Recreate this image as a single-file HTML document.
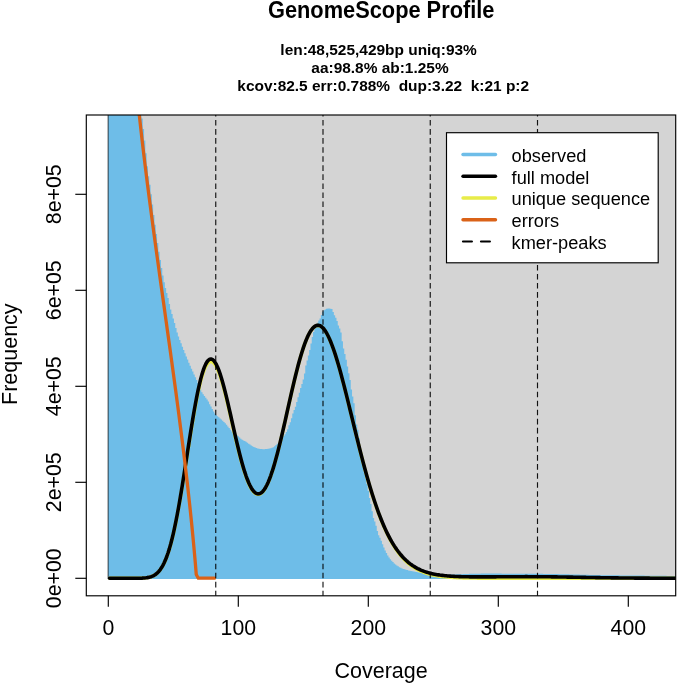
<!DOCTYPE html>
<html><head><meta charset="utf-8"><title>GenomeScope Profile</title>
<style>html,body{margin:0;padding:0;background:#fff;width:678px;height:685px;overflow:hidden}
svg{display:block;font-family:"Liberation Sans",Arial,Helvetica,sans-serif}
svg text{fill:#000}</style></head><body>
<svg width="678" height="685" viewBox="0 0 678 685">
<defs><clipPath id="pc"><rect x="86.3" y="115.0" width="589.4" height="480.8"/></clipPath></defs>
<rect width="678" height="685" fill="#fff"/>
<g clip-path="url(#pc)">
<rect x="108.3" y="110.0" width="572.4" height="468.3" fill="#D4D4D4" stroke="#000" stroke-width="1.15"/>
<path d="M108.5,578.9 L108.5,105 L108.95,105 L110.25,105 L110.25,105 L111.55,105 L111.55,105 L112.85,105 L112.85,105 L114.15,105 L114.15,105 L115.45,105 L115.45,105 L116.75,105 L116.75,105 L118.05,105 L118.05,105 L119.35,105 L119.35,105 L120.65,105 L120.65,105 L121.95,105 L121.95,105 L123.25,105 L123.25,105 L124.55,105 L124.55,105 L125.85,105 L125.85,105 L127.15,105 L127.15,105 L128.45,105 L128.45,105 L129.75,105 L129.75,105 L131.05,105 L131.05,105 L132.35,105 L132.35,105 L133.65,105 L133.65,105 L134.95,105 L134.95,105 L136.25,105 L136.25,105 L137.55,105 L137.55,105 L138.85,105 L138.85,105 L140.15,105 L140.15,105 L141.45,105 L141.45,118.5 L142.75,118.5 L142.75,129.12 L144.05,129.12 L144.05,140.45 L145.35,140.45 L145.35,153.3 L146.65,153.3 L146.65,166.14 L147.95,166.14 L147.95,176.27 L149.25,176.27 L149.25,184.81 L150.55,184.81 L150.55,194.16 L151.85,194.16 L151.85,204.61 L153.15,204.61 L153.15,215.08 L154.45,215.08 L154.45,224.71 L155.75,224.71 L155.75,233.97 L157.05,233.97 L157.05,242.95 L158.35,242.95 L158.35,251.63 L159.65,251.63 L159.65,259.97 L160.95,259.97 L160.95,267.93 L162.25,267.93 L162.25,275.47 L163.55,275.47 L163.55,282.26 L164.85,282.26 L164.85,287.92 L166.15,287.92 L166.15,292.96 L167.45,292.96 L167.45,298.08 L168.75,298.08 L168.75,304.02 L170.05,304.02 L170.05,309.43 L171.35,309.43 L171.35,314.02 L172.65,314.02 L172.65,318.42 L173.95,318.42 L173.95,323.11 L175.25,323.11 L175.25,327.97 L176.55,327.97 L176.55,332.6 L177.85,332.6 L177.85,336.61 L179.15,336.61 L179.15,340.09 L180.45,340.09 L180.45,343.35 L181.75,343.35 L181.75,346.67 L183.05,346.67 L183.05,349.99 L184.35,349.99 L184.35,353.27 L185.65,353.27 L185.65,356.48 L186.95,356.48 L186.95,359.62 L188.25,359.62 L188.25,362.69 L189.55,362.69 L189.55,365.71 L190.85,365.71 L190.85,368.68 L192.15,368.68 L192.15,371.6 L193.45,371.6 L193.45,374.46 L194.75,374.46 L194.75,377.19 L196.05,377.19 L196.05,379.96 L197.35,379.96 L197.35,383.09 L198.65,383.09 L198.65,386.38 L199.95,386.38 L199.95,389.54 L201.25,389.54 L201.25,392.25 L202.55,392.25 L202.55,394.33 L203.85,394.33 L203.85,396.08 L205.15,396.08 L205.15,397.86 L206.45,397.86 L206.45,399.62 L207.75,399.62 L207.75,401.58 L209.05,401.58 L209.05,404.13 L210.35,404.13 L210.35,406.59 L211.65,406.59 L211.65,409.05 L212.95,409.05 L212.95,411.39 L214.25,411.39 L214.25,413.43 L215.55,413.43 L215.55,415.01 L216.85,415.01 L216.85,416.25 L218.15,416.25 L218.15,417.33 L219.45,417.33 L219.45,418.45 L220.75,418.45 L220.75,419.59 L222.05,419.59 L222.05,420.74 L223.35,420.74 L223.35,421.95 L224.65,421.95 L224.65,423.31 L225.95,423.31 L225.95,424.82 L227.25,424.82 L227.25,426.41 L228.55,426.41 L228.55,428.01 L229.85,428.01 L229.85,429.75 L231.15,429.75 L231.15,431.42 L232.45,431.42 L232.45,432.67 L233.75,432.67 L233.75,433.62 L235.05,433.62 L235.05,434.43 L236.35,434.43 L236.35,435.25 L237.65,435.25 L237.65,436.2 L238.95,436.2 L238.95,437.51 L240.25,437.51 L240.25,438.79 L241.55,438.79 L241.55,439.67 L242.85,439.67 L242.85,440.41 L244.15,440.41 L244.15,441.09 L245.45,441.09 L245.45,441.82 L246.75,441.82 L246.75,442.68 L248.05,442.68 L248.05,443.64 L249.35,443.64 L249.35,444.62 L250.65,444.62 L250.65,445.53 L251.95,445.53 L251.95,446.28 L253.25,446.28 L253.25,446.94 L254.55,446.94 L254.55,447.57 L255.85,447.57 L255.85,448.1 L257.15,448.1 L257.15,448.49 L258.45,448.49 L258.45,448.72 L259.75,448.72 L259.75,448.91 L261.05,448.91 L261.05,449.06 L262.35,449.06 L262.35,449.16 L263.65,449.16 L263.65,449.16 L264.95,449.16 L264.95,449.05 L266.25,449.05 L266.25,448.89 L267.55,448.89 L267.55,448.7 L268.85,448.7 L268.85,448.48 L270.15,448.48 L270.15,448.16 L271.45,448.16 L271.45,447.72 L272.75,447.72 L272.75,447.17 L274.05,447.17 L274.05,446.32 L275.35,446.32 L275.35,445.08 L276.65,445.08 L276.65,443.75 L277.95,443.75 L277.95,442.39 L279.25,442.39 L279.25,440.92 L280.55,440.92 L280.55,439.34 L281.85,439.34 L281.85,437.67 L283.15,437.67 L283.15,435.98 L284.45,435.98 L284.45,434.22 L285.75,434.22 L285.75,432.12 L287.05,432.12 L287.05,429.33 L288.35,429.33 L288.35,425.29 L289.65,425.29 L289.65,422.19 L290.95,422.19 L290.95,418.36 L292.25,418.36 L292.25,413.46 L293.55,413.46 L293.55,410.07 L294.85,410.07 L294.85,406.75 L296.15,406.75 L296.15,402.08 L297.45,402.08 L297.45,397.3 L298.75,397.3 L298.75,392.67 L300.05,392.67 L300.05,388.12 L301.35,388.12 L301.35,384 L302.65,384 L302.65,379.53 L303.95,379.53 L303.95,373.56 L305.25,373.56 L305.25,365.42 L306.55,365.42 L306.55,360.38 L307.85,360.38 L307.85,355.48 L309.15,355.48 L309.15,349.95 L310.45,349.95 L310.45,343.61 L311.75,343.61 L311.75,337.03 L313.05,337.03 L313.05,332.04 L314.35,332.04 L314.35,328.5 L315.65,328.5 L315.65,325.49 L316.95,325.49 L316.95,322.79 L318.25,322.79 L318.25,320.47 L319.55,320.47 L319.55,318.56 L320.85,318.56 L320.85,314.97 L322.15,314.97 L322.15,311.67 L323.45,311.67 L323.45,310.23 L324.75,310.23 L324.75,309.42 L326.05,309.42 L326.05,308.82 L327.35,308.82 L327.35,308.6 L328.65,308.6 L328.65,308.6 L329.95,308.6 L329.95,308.72 L331.25,308.72 L331.25,309.09 L332.55,309.09 L332.55,311.9 L333.85,311.9 L333.85,315.34 L335.15,315.34 L335.15,317.85 L336.45,317.85 L336.45,321.07 L337.75,321.07 L337.75,325.42 L339.05,325.42 L339.05,328.47 L340.35,328.47 L340.35,332.51 L341.65,332.51 L341.65,341.35 L342.95,341.35 L342.95,348.38 L344.25,348.38 L344.25,354.1 L345.55,354.1 L345.55,359.77 L346.85,359.77 L346.85,366.53 L348.15,366.53 L348.15,373.27 L349.45,373.27 L349.45,380.01 L350.75,380.01 L350.75,389.56 L352.05,389.56 L352.05,396.51 L353.35,396.51 L353.35,403.34 L354.65,403.34 L354.65,415.14 L355.95,415.14 L355.95,424.53 L357.25,424.53 L357.25,429.76 L358.55,429.76 L358.55,438.28 L359.85,438.28 L359.85,448.94 L361.15,448.94 L361.15,457.5 L362.45,457.5 L362.45,465.26 L363.75,465.26 L363.75,472.41 L365.05,472.41 L365.05,478.54 L366.35,478.54 L366.35,484 L367.65,484 L367.65,490.77 L368.95,490.77 L368.95,497.92 L370.25,497.92 L370.25,503.94 L371.55,503.94 L371.55,511.32 L372.85,511.32 L372.85,517.89 L374.15,517.89 L374.15,521.57 L375.45,521.57 L375.45,525.7 L376.75,525.7 L376.75,531.12 L378.05,531.12 L378.05,535.22 L379.35,535.22 L379.35,537.77 L380.65,537.77 L380.65,540.72 L381.95,540.72 L381.95,544.14 L383.25,544.14 L383.25,547.43 L384.55,547.43 L384.55,550.41 L385.85,550.41 L385.85,553.1 L387.15,553.1 L387.15,555.45 L388.45,555.45 L388.45,557.46 L389.75,557.46 L389.75,559.23 L391.05,559.23 L391.05,560.76 L392.35,560.76 L392.35,562.12 L393.65,562.12 L393.65,563.39 L394.95,563.39 L394.95,564.53 L396.25,564.53 L396.25,565.53 L397.55,565.53 L397.55,566.37 L398.85,566.37 L398.85,567.13 L400.15,567.13 L400.15,567.81 L401.45,567.81 L401.45,568.4 L402.75,568.4 L402.75,568.92 L404.05,568.92 L404.05,569.36 L405.35,569.36 L405.35,569.76 L406.65,569.76 L406.65,570.12 L407.95,570.12 L407.95,570.44 L409.25,570.44 L409.25,570.75 L410.55,570.75 L410.55,571.04 L411.85,571.04 L411.85,571.31 L413.15,571.31 L413.15,571.56 L414.45,571.56 L414.45,571.79 L415.75,571.79 L415.75,572 L417.05,572 L417.05,572.19 L418.35,572.19 L418.35,572.38 L419.65,572.38 L419.65,572.58 L420.95,572.58 L420.95,572.8 L422.25,572.8 L422.25,573.06 L423.55,573.06 L423.55,573.34 L424.85,573.34 L424.85,573.61 L426.15,573.61 L426.15,573.82 L427.45,573.82 L427.45,574.01 L428.75,574.01 L428.75,574.21 L430.05,574.21 L430.05,574.4 L431.35,574.4 L431.35,574.59 L432.65,574.59 L432.65,574.76 L433.95,574.76 L433.95,574.92 L435.25,574.92 L435.25,575.05 L436.55,575.05 L436.55,575.16 L437.85,575.16 L437.85,575.25 L439.15,575.25 L439.15,575.29 L440.45,575.29 L440.45,575.27 L441.75,575.27 L441.75,575.21 L443.05,575.21 L443.05,575.13 L444.35,575.13 L444.35,575.04 L445.65,575.04 L445.65,574.94 L446.95,574.94 L446.95,574.84 L448.25,574.84 L448.25,574.74 L449.55,574.74 L449.55,574.66 L450.85,574.66 L450.85,574.59 L452.15,574.59 L452.15,574.54 L453.45,574.54 L453.45,574.48 L454.75,574.48 L454.75,574.43 L456.05,574.43 L456.05,574.37 L457.35,574.37 L457.35,574.32 L458.65,574.32 L458.65,574.26 L459.95,574.26 L459.95,574.21 L461.25,574.21 L461.25,574.15 L462.55,574.15 L462.55,574.1 L463.85,574.1 L463.85,574.05 L465.15,574.05 L465.15,574 L466.45,574 L466.45,573.95 L467.75,573.95 L467.75,573.91 L469.05,573.91 L469.05,573.86 L470.35,573.86 L470.35,573.82 L471.65,573.82 L471.65,573.79 L472.95,573.79 L472.95,573.75 L474.25,573.75 L474.25,573.72 L475.55,573.72 L475.55,573.69 L476.85,573.69 L476.85,573.66 L478.15,573.66 L478.15,573.64 L479.45,573.64 L479.45,573.63 L480.75,573.63 L480.75,573.61 L482.05,573.61 L482.05,573.6 L483.35,573.6 L483.35,573.6 L484.65,573.6 L484.65,573.6 L485.95,573.6 L485.95,573.6 L487.25,573.6 L487.25,573.6 L488.55,573.6 L488.55,573.6 L489.85,573.6 L489.85,573.6 L491.15,573.6 L491.15,573.6 L492.45,573.6 L492.45,573.61 L493.75,573.61 L493.75,573.61 L495.05,573.61 L495.05,573.61 L496.35,573.61 L496.35,573.61 L497.65,573.61 L497.65,573.62 L498.95,573.62 L498.95,573.62 L500.25,573.62 L500.25,573.62 L501.55,573.62 L501.55,573.63 L502.85,573.63 L502.85,573.63 L504.15,573.63 L504.15,573.64 L505.45,573.64 L505.45,573.64 L506.75,573.64 L506.75,573.65 L508.05,573.65 L508.05,573.65 L509.35,573.65 L509.35,573.66 L510.65,573.66 L510.65,573.67 L511.95,573.67 L511.95,573.67 L513.25,573.67 L513.25,573.68 L514.55,573.68 L514.55,573.69 L515.85,573.69 L515.85,573.69 L517.15,573.69 L517.15,573.7 L518.45,573.7 L518.45,573.71 L519.75,573.71 L519.75,573.71 L521.05,573.71 L521.05,573.72 L522.35,573.72 L522.35,573.73 L523.65,573.73 L523.65,573.74 L524.95,573.74 L524.95,573.75 L526.25,573.75 L526.25,573.75 L527.55,573.75 L527.55,573.76 L528.85,573.76 L528.85,573.77 L530.15,573.77 L530.15,573.78 L531.45,573.78 L531.45,573.79 L532.75,573.79 L532.75,573.8 L534.05,573.8 L534.05,573.81 L535.35,573.81 L535.35,573.82 L536.65,573.82 L536.65,573.83 L537.95,573.83 L537.95,573.84 L539.25,573.84 L539.25,573.84 L540.55,573.84 L540.55,573.85 L541.85,573.85 L541.85,573.87 L543.15,573.87 L543.15,573.88 L544.45,573.88 L544.45,573.89 L545.75,573.89 L545.75,573.91 L547.05,573.91 L547.05,573.93 L548.35,573.93 L548.35,573.94 L549.65,573.94 L549.65,573.96 L550.95,573.96 L550.95,573.99 L552.25,573.99 L552.25,574.01 L553.55,574.01 L553.55,574.03 L554.85,574.03 L554.85,574.06 L556.15,574.06 L556.15,574.08 L557.45,574.08 L557.45,574.11 L558.75,574.11 L558.75,574.14 L560.05,574.14 L560.05,574.17 L561.35,574.17 L561.35,574.2 L562.65,574.2 L562.65,574.23 L563.95,574.23 L563.95,574.26 L565.25,574.26 L565.25,574.29 L566.55,574.29 L566.55,574.32 L567.85,574.32 L567.85,574.35 L569.15,574.35 L569.15,574.38 L570.45,574.38 L570.45,574.42 L571.75,574.42 L571.75,574.45 L573.05,574.45 L573.05,574.48 L574.35,574.48 L574.35,574.52 L575.65,574.52 L575.65,574.55 L576.95,574.55 L576.95,574.58 L578.25,574.58 L578.25,574.62 L579.55,574.62 L579.55,574.65 L580.85,574.65 L580.85,574.69 L582.15,574.69 L582.15,574.72 L583.45,574.72 L583.45,574.75 L584.75,574.75 L584.75,574.78 L586.05,574.78 L586.05,574.82 L587.35,574.82 L587.35,574.85 L588.65,574.85 L588.65,574.88 L589.95,574.88 L589.95,574.91 L591.25,574.91 L591.25,574.94 L592.55,574.94 L592.55,574.97 L593.85,574.97 L593.85,575 L595.15,575 L595.15,575.03 L596.45,575.03 L596.45,575.05 L597.75,575.05 L597.75,575.08 L599.05,575.08 L599.05,575.1 L600.35,575.1 L600.35,575.13 L601.65,575.13 L601.65,575.15 L602.95,575.15 L602.95,575.17 L604.25,575.17 L604.25,575.19 L605.55,575.19 L605.55,575.21 L606.85,575.21 L606.85,575.23 L608.15,575.23 L608.15,575.24 L609.45,575.24 L609.45,575.26 L610.75,575.26 L610.75,575.28 L612.05,575.28 L612.05,575.29 L613.35,575.29 L613.35,575.31 L614.65,575.31 L614.65,575.33 L615.95,575.33 L615.95,575.34 L617.25,575.34 L617.25,575.36 L618.55,575.36 L618.55,575.37 L619.85,575.37 L619.85,575.38 L621.15,575.38 L621.15,575.4 L622.45,575.4 L622.45,575.41 L623.75,575.41 L623.75,575.43 L625.05,575.43 L625.05,575.44 L626.35,575.44 L626.35,575.45 L627.65,575.45 L627.65,575.47 L628.95,575.47 L628.95,575.48 L630.25,575.48 L630.25,575.49 L631.55,575.49 L631.55,575.5 L632.85,575.5 L632.85,575.52 L634.15,575.52 L634.15,575.53 L635.45,575.53 L635.45,575.54 L636.75,575.54 L636.75,575.56 L638.05,575.56 L638.05,575.57 L639.35,575.57 L639.35,575.58 L640.65,575.58 L640.65,575.59 L641.95,575.59 L641.95,575.61 L643.25,575.61 L643.25,575.62 L644.55,575.62 L644.55,575.63 L645.85,575.63 L645.85,575.65 L647.15,575.65 L647.15,575.66 L648.45,575.66 L648.45,575.67 L649.75,575.67 L649.75,575.69 L651.05,575.69 L651.05,575.7 L652.35,575.7 L652.35,575.71 L653.65,575.71 L653.65,575.73 L654.95,575.73 L654.95,575.74 L656.25,575.74 L656.25,575.76 L657.55,575.76 L657.55,575.77 L658.85,575.77 L658.85,575.79 L660.15,575.79 L660.15,575.8 L661.45,575.8 L661.45,575.82 L662.75,575.82 L662.75,575.83 L664.05,575.83 L664.05,575.85 L665.35,575.85 L665.35,575.87 L666.65,575.87 L666.65,575.88 L667.95,575.88 L667.95,575.9 L669.25,575.9 L669.25,575.92 L670.55,575.92 L670.55,575.93 L671.85,575.93 L671.85,575.95 L673.15,575.95 L673.15,575.97 L674.45,575.97 L674.45,575.98 L675.75,575.98 L675.75,576 L677.05,576 L677.05,578.9 Z" fill="#6EBDE8"/>
<path d="M109.6,578.3 L110.9,578.3 L112.2,578.3 L113.5,578.3 L114.8,578.3 L116.1,578.3 L117.4,578.3 L118.7,578.3 L120,578.3 L121.3,578.3 L122.6,578.3 L123.9,578.3 L125.2,578.3 L126.5,578.3 L127.8,578.3 L129.1,578.3 L130.4,578.3 L131.7,578.3 L133,578.29 L134.3,578.29 L135.6,578.28 L136.9,578.27 L138.2,578.25 L139.5,578.23 L140.8,578.19 L142.1,578.14 L143.4,578.07 L144.7,577.97 L146,577.83 L147.3,577.65 L148.6,577.4 L149.9,577.09 L151.2,576.69 L152.5,576.18 L153.8,575.55 L155.1,574.77 L156.4,573.81 L157.7,572.66 L159,571.28 L160.3,569.65 L161.6,567.73 L162.9,565.51 L164.2,562.96 L165.5,560.05 L166.8,556.75 L168.1,553.06 L169.4,548.96 L170.7,544.43 L172,539.48 L173.3,534.09 L174.6,528.29 L175.9,522.07 L177.2,515.47 L178.5,508.5 L179.8,501.2 L181.1,493.61 L182.4,485.77 L183.7,477.72 L185,469.53 L186.3,461.25 L187.6,452.93 L188.9,444.65 L190.2,436.46 L191.5,428.43 L192.8,420.62 L194.1,413.1 L195.4,405.91 L196.7,399.12 L198,392.78 L199.3,386.93 L200.6,381.62 L201.9,376.89 L203.2,372.75 L204.5,369.24 L205.8,366.38 L207.1,364.17 L208.4,362.62 L209.7,361.73 L211,361.49 L212.3,361.88 L213.6,362.88 L214.9,364.48 L216.2,366.64 L217.5,369.33 L218.8,372.52 L220.1,376.16 L221.4,380.21 L222.7,384.63 L224,389.37 L225.3,394.39 L226.6,399.64 L227.9,405.08 L229.2,410.65 L230.5,416.32 L231.8,422.04 L233.1,427.76 L234.4,433.44 L235.7,439.05 L237,444.54 L238.3,449.88 L239.6,455.03 L240.9,459.97 L242.2,464.66 L243.5,469.09 L244.8,473.21 L246.1,477.02 L247.4,480.48 L248.7,483.59 L250,486.33 L251.3,488.69 L252.6,490.65 L253.9,492.21 L255.2,493.36 L256.5,494.1 L257.8,494.42 L259.1,494.33 L260.4,493.83 L261.7,492.92 L263,491.6 L264.3,489.89 L265.6,487.79 L266.9,485.32 L268.2,482.49 L269.5,479.31 L270.8,475.8 L272.1,471.97 L273.4,467.85 L274.7,463.46 L276,458.81 L277.3,453.93 L278.6,448.85 L279.9,443.59 L281.2,438.16 L282.5,432.61 L283.8,426.96 L285.1,421.23 L286.4,415.45 L287.7,409.65 L289,403.85 L290.3,398.1 L291.6,392.4 L292.9,386.79 L294.2,381.3 L295.5,375.95 L296.8,370.76 L298.1,365.77 L299.4,360.98 L300.7,356.43 L302,352.14 L303.3,348.11 L304.6,344.38 L305.9,340.94 L307.2,337.83 L308.5,335.05 L309.8,332.61 L311.1,330.52 L312.4,328.79 L313.7,327.42 L315,326.41 L316.3,325.77 L317.6,325.5 L318.9,325.59 L320.2,326.04 L321.5,326.85 L322.8,328.01 L324.1,329.51 L325.4,331.34 L326.7,333.49 L328,335.95 L329.3,338.7 L330.6,341.74 L331.9,345.04 L333.2,348.6 L334.5,352.4 L335.8,356.41 L337.1,360.63 L338.4,365.04 L339.7,369.61 L341,374.34 L342.3,379.2 L343.6,384.18 L344.9,389.26 L346.2,394.42 L347.5,399.65 L348.8,404.94 L350.1,410.26 L351.4,415.6 L352.7,420.95 L354,426.29 L355.3,431.61 L356.6,436.9 L357.9,442.15 L359.2,447.34 L360.5,452.47 L361.8,457.53 L363.1,462.5 L364.4,467.39 L365.7,472.17 L367,476.85 L368.3,481.43 L369.6,485.89 L370.9,490.23 L372.2,494.45 L373.5,498.54 L374.8,502.51 L376.1,506.35 L377.4,510.06 L378.7,513.64 L380,517.09 L381.3,520.41 L382.6,523.59 L383.9,526.65 L385.2,529.58 L386.5,532.39 L387.8,535.07 L389.1,537.64 L390.4,540.08 L391.7,542.41 L393,544.62 L394.3,546.72 L395.6,548.72 L396.9,550.62 L398.2,552.41 L399.5,554.11 L400.8,555.71 L402.1,557.23 L403.4,558.66 L404.7,560.01 L406,561.28 L407.3,562.47 L408.6,563.59 L409.9,564.64 L411.2,565.63 L412.5,566.55 L413.8,567.41 L415.1,568.22 L416.4,568.98 L417.7,569.68 L419,570.34 L420.3,570.95 L421.6,571.52 L422.9,572.05 L424.2,572.55 L425.5,573.01 L426.8,573.43 L428.1,573.82 L429.4,574.19 L430.7,574.53 L432,574.84 L433.3,575.13 L434.6,575.39 L435.9,575.64 L437.2,575.87 L438.5,576.08 L439.8,576.27 L441.1,576.44 L442.4,576.61 L443.7,576.76 L445,576.89 L446.3,577.02 L447.6,577.13 L448.9,577.24 L450.2,577.34 L451.5,577.42 L452.8,577.5 L454.1,577.58 L455.4,577.65 L456.7,577.71 L458,577.76 L459.3,577.81 L460.6,577.86 L461.9,577.9 L463.2,577.94 L464.5,577.97 L465.8,578.01 L467.1,578.04 L468.4,578.06 L469.7,578.08 L471,578.11 L472.3,578.13 L473.6,578.14 L474.9,578.16 L476.2,578.17 L477.5,578.19 L478.8,578.2 L480.1,578.21 L481.4,578.22 L482.7,578.23 L484,578.23 L485.3,578.24 L486.6,578.25 L487.9,578.25 L489.2,578.26 L490.5,578.26 L491.8,578.27 L493.1,578.27 L494.4,578.27 L495.7,578.28 L497,578.28 L498.3,578.28 L499.6,578.28 L500.9,578.28 L502.2,578.29 L503.5,578.29 L504.8,578.29 L506.1,578.29 L507.4,578.29 L508.7,578.29 L510,578.29 L511.3,578.29 L512.6,578.29 L513.9,578.3 L515.2,578.3 L516.5,578.3 L517.8,578.3 L519.1,578.3 L520.4,578.3 L521.7,578.3 L523,578.3 L524.3,578.3 L525.6,578.3 L526.9,578.3 L528.2,578.3 L529.5,578.3 L530.8,578.3 L532.1,578.3 L533.4,578.3 L534.7,578.3 L536,578.3 L537.3,578.3 L538.6,578.3 L539.9,578.3 L541.2,578.3 L542.5,578.3 L543.8,578.3 L545.1,578.3 L546.4,578.3 L547.7,578.3 L549,578.3 L550.3,578.3 L551.6,578.3 L552.9,578.3 L554.2,578.3 L555.5,578.3 L556.8,578.3 L558.1,578.3 L559.4,578.3 L560.7,578.3 L562,578.3 L563.3,578.3 L564.6,578.3 L565.9,578.3 L567.2,578.3 L568.5,578.3 L569.8,578.3 L571.1,578.3 L572.4,578.3 L573.7,578.3 L575,578.3 L576.3,578.3 L577.6,578.3 L578.9,578.3 L580.2,578.3 L581.5,578.3 L582.8,578.3 L584.1,578.3 L585.4,578.3 L586.7,578.3 L588,578.3 L589.3,578.3 L590.6,578.3 L591.9,578.3 L593.2,578.3 L594.5,578.3 L595.8,578.3 L597.1,578.3 L598.4,578.3 L599.7,578.3 L601,578.3 L602.3,578.3 L603.6,578.3 L604.9,578.3 L606.2,578.3 L607.5,578.3 L608.8,578.3 L610.1,578.3 L611.4,578.3 L612.7,578.3 L614,578.3 L615.3,578.3 L616.6,578.3 L617.9,578.3 L619.2,578.3 L620.5,578.3 L621.8,578.3 L623.1,578.3 L624.4,578.3 L625.7,578.3 L627,578.3 L628.3,578.3 L629.6,578.3 L630.9,578.3 L632.2,578.3 L633.5,578.3 L634.8,578.3 L636.1,578.3 L637.4,578.3 L638.7,578.3 L640,578.3 L641.3,578.3 L642.6,578.3 L643.9,578.3 L645.2,578.3 L646.5,578.3 L647.8,578.3 L649.1,578.3 L650.4,578.3 L651.7,578.3 L653,578.3 L654.3,578.3 L655.6,578.3 L656.9,578.3 L658.2,578.3 L659.5,578.3 L660.8,578.3 L662.1,578.3 L663.4,578.3 L664.7,578.3 L666,578.3 L667.3,578.3 L668.6,578.3 L669.9,578.3 L671.2,578.3 L672.5,578.3 L673.8,578.3 L675.1,578.3 L676.4,578.3 L677.7,578.3" fill="none" stroke="#E8EC48" stroke-width="3.4" stroke-linejoin="round" stroke-linecap="round"/>
<path d="M109.6,578.3 L110.9,578.3 L112.2,578.3 L113.5,578.3 L114.8,578.3 L116.1,578.3 L117.4,578.3 L118.7,578.3 L120,578.3 L121.3,578.3 L122.6,578.3 L123.9,578.3 L125.2,578.3 L126.5,578.3 L127.8,578.3 L129.1,578.3 L130.4,578.3 L131.7,578.3 L133,578.29 L134.3,578.29 L135.6,578.28 L136.9,578.27 L138.2,578.25 L139.5,578.23 L140.8,578.19 L142.1,578.14 L143.4,578.06 L144.7,577.96 L146,577.82 L147.3,577.64 L148.6,577.39 L149.9,577.08 L151.2,576.67 L152.5,576.16 L153.8,575.52 L155.1,574.73 L156.4,573.76 L157.7,572.59 L159,571.2 L160.3,569.55 L161.6,567.61 L162.9,565.37 L164.2,562.79 L165.5,559.84 L166.8,556.51 L168.1,552.78 L169.4,548.63 L170.7,544.05 L172,539.04 L173.3,533.59 L174.6,527.72 L175.9,521.44 L177.2,514.76 L178.5,507.71 L179.8,500.33 L181.1,492.65 L182.4,484.72 L183.7,476.59 L185,468.3 L186.3,459.92 L187.6,451.52 L188.9,443.14 L190.2,434.86 L191.5,426.74 L192.8,418.84 L194.1,411.23 L195.4,403.96 L196.7,397.09 L198,390.68 L199.3,384.77 L200.6,379.4 L201.9,374.61 L203.2,370.43 L204.5,366.88 L205.8,363.98 L207.1,361.75 L208.4,360.18 L209.7,359.28 L211,359.04 L212.3,359.43 L213.6,360.45 L214.9,362.07 L216.2,364.25 L217.5,366.97 L218.8,370.2 L220.1,373.88 L221.4,377.97 L222.7,382.45 L224,387.25 L225.3,392.33 L226.6,397.64 L227.9,403.14 L229.2,408.78 L230.5,414.52 L231.8,420.3 L233.1,426.1 L234.4,431.85 L235.7,437.53 L237,443.09 L238.3,448.5 L239.6,453.72 L240.9,458.73 L242.2,463.49 L243.5,467.97 L244.8,472.16 L246.1,476.03 L247.4,479.55 L248.7,482.72 L250,485.51 L251.3,487.92 L252.6,489.93 L253.9,491.54 L255.2,492.73 L256.5,493.51 L257.8,493.87 L259.1,493.82 L260.4,493.35 L261.7,492.47 L263,491.18 L264.3,489.5 L265.6,487.43 L266.9,484.98 L268.2,482.16 L269.5,479 L270.8,475.51 L272.1,471.7 L273.4,467.59 L274.7,463.21 L276,458.57 L277.3,453.71 L278.6,448.63 L279.9,443.37 L281.2,437.96 L282.5,432.41 L283.8,426.76 L285.1,421.03 L286.4,415.25 L287.7,409.46 L289,403.66 L290.3,397.91 L291.6,392.21 L292.9,386.6 L294.2,381.11 L295.5,375.76 L296.8,370.57 L298.1,365.57 L299.4,360.79 L300.7,356.24 L302,351.94 L303.3,347.91 L304.6,344.17 L305.9,340.74 L307.2,337.63 L308.5,334.84 L309.8,332.4 L311.1,330.31 L312.4,328.58 L313.7,327.2 L315,326.2 L316.3,325.56 L317.6,325.28 L318.9,325.37 L320.2,325.82 L321.5,326.63 L322.8,327.78 L324.1,329.28 L325.4,331.11 L326.7,333.26 L328,335.72 L329.3,338.47 L330.6,341.5 L331.9,344.81 L333.2,348.36 L334.5,352.16 L335.8,356.17 L337.1,360.39 L338.4,364.79 L339.7,369.36 L341,374.08 L342.3,378.94 L343.6,383.91 L344.9,388.99 L346.2,394.15 L347.5,399.37 L348.8,404.65 L350.1,409.96 L351.4,415.3 L352.7,420.64 L354,425.97 L355.3,431.28 L356.6,436.56 L357.9,441.8 L359.2,446.98 L360.5,452.1 L361.8,457.14 L363.1,462.1 L364.4,466.97 L365.7,471.75 L367,476.41 L368.3,480.97 L369.6,485.42 L370.9,489.74 L372.2,493.94 L373.5,498.02 L374.8,501.97 L376.1,505.79 L377.4,509.48 L378.7,513.04 L380,516.47 L381.3,519.77 L382.6,522.94 L383.9,525.98 L385.2,528.89 L386.5,531.68 L387.8,534.34 L389.1,536.88 L390.4,539.3 L391.7,541.61 L393,543.8 L394.3,545.89 L395.6,547.87 L396.9,549.74 L398.2,551.52 L399.5,553.2 L400.8,554.78 L402.1,556.28 L403.4,557.69 L404.7,559.02 L406,560.28 L407.3,561.45 L408.6,562.56 L409.9,563.6 L411.2,564.57 L412.5,565.48 L413.8,566.33 L415.1,567.13 L416.4,567.87 L417.7,568.57 L419,569.21 L420.3,569.82 L421.6,570.38 L422.9,570.9 L424.2,571.39 L425.5,571.84 L426.8,572.26 L428.1,572.65 L429.4,573.01 L430.7,573.34 L432,573.65 L433.3,573.94 L434.6,574.2 L435.9,574.44 L437.2,574.67 L438.5,574.87 L439.8,575.07 L441.1,575.24 L442.4,575.4 L443.7,575.55 L445,575.69 L446.3,575.81 L447.6,575.93 L448.9,576.03 L450.2,576.13 L451.5,576.22 L452.8,576.29 L454.1,576.37 L455.4,576.43 L456.7,576.49 L458,576.55 L459.3,576.6 L460.6,576.64 L461.9,576.68 L463.2,576.71 L464.5,576.75 L465.8,576.77 L467.1,576.8 L468.4,576.82 L469.7,576.84 L471,576.85 L472.3,576.86 L473.6,576.87 L474.9,576.88 L476.2,576.89 L477.5,576.89 L478.8,576.9 L480.1,576.9 L481.4,576.9 L482.7,576.9 L484,576.89 L485.3,576.89 L486.6,576.89 L487.9,576.88 L489.2,576.87 L490.5,576.87 L491.8,576.86 L493.1,576.85 L494.4,576.84 L495.7,576.83 L497,576.82 L498.3,576.81 L499.6,576.81 L500.9,576.8 L502.2,576.79 L503.5,576.78 L504.8,576.77 L506.1,576.76 L507.4,576.75 L508.7,576.74 L510,576.73 L511.3,576.72 L512.6,576.72 L513.9,576.71 L515.2,576.7 L516.5,576.7 L517.8,576.69 L519.1,576.69 L520.4,576.68 L521.7,576.68 L523,576.68 L524.3,576.68 L525.6,576.67 L526.9,576.67 L528.2,576.68 L529.5,576.68 L530.8,576.68 L532.1,576.68 L533.4,576.69 L534.7,576.69 L536,576.7 L537.3,576.71 L538.6,576.71 L539.9,576.72 L541.2,576.73 L542.5,576.74 L543.8,576.75 L545.1,576.77 L546.4,576.78 L547.7,576.79 L549,576.81 L550.3,576.82 L551.6,576.84 L552.9,576.85 L554.2,576.87 L555.5,576.89 L556.8,576.91 L558.1,576.93 L559.4,576.95 L560.7,576.97 L562,576.99 L563.3,577.01 L564.6,577.03 L565.9,577.05 L567.2,577.08 L568.5,577.1 L569.8,577.12 L571.1,577.15 L572.4,577.17 L573.7,577.19 L575,577.22 L576.3,577.24 L577.6,577.26 L578.9,577.29 L580.2,577.31 L581.5,577.34 L582.8,577.36 L584.1,577.38 L585.4,577.41 L586.7,577.43 L588,577.46 L589.3,577.48 L590.6,577.5 L591.9,577.52 L593.2,577.55 L594.5,577.57 L595.8,577.59 L597.1,577.61 L598.4,577.64 L599.7,577.66 L601,577.68 L602.3,577.7 L603.6,577.72 L604.9,577.74 L606.2,577.76 L607.5,577.78 L608.8,577.8 L610.1,577.81 L611.4,577.83 L612.7,577.85 L614,577.87 L615.3,577.88 L616.6,577.9 L617.9,577.91 L619.2,577.93 L620.5,577.95 L621.8,577.96 L623.1,577.97 L624.4,577.99 L625.7,578 L627,578.01 L628.3,578.03 L629.6,578.04 L630.9,578.05 L632.2,578.06 L633.5,578.07 L634.8,578.08 L636.1,578.09 L637.4,578.1 L638.7,578.11 L640,578.12 L641.3,578.13 L642.6,578.14 L643.9,578.14 L645.2,578.15 L646.5,578.16 L647.8,578.17 L649.1,578.17 L650.4,578.18 L651.7,578.19 L653,578.19 L654.3,578.2 L655.6,578.2 L656.9,578.21 L658.2,578.21 L659.5,578.22 L660.8,578.22 L662.1,578.23 L663.4,578.23 L664.7,578.23 L666,578.24 L667.3,578.24 L668.6,578.25 L669.9,578.25 L671.2,578.25 L672.5,578.25 L673.8,578.26 L675.1,578.26 L676.4,578.26 L677.7,578.26" fill="none" stroke="#000" stroke-width="3.6" stroke-linejoin="round" stroke-linecap="round"/>
<path d="M137.78,100 L138.59,108.04 L139.4,116.08 L140.29,124.13 L141.19,132.17 L142.12,140.21 L143.06,148.25 L144.02,156.3 L145,164.34 L145.99,172.38 L147,180.42 L148.02,188.47 L149.05,196.51 L150.1,204.55 L151.16,212.59 L152.23,220.64 L153.31,228.68 L154.39,236.72 L155.49,244.76 L156.59,252.81 L157.7,260.85 L158.81,268.89 L159.93,276.93 L161.05,284.97 L162.18,293.02 L163.3,301.06 L164.43,309.1 L165.55,317.14 L166.68,325.19 L167.8,333.23 L168.92,341.27 L170.04,349.31 L171.15,357.36 L172.26,365.4 L173.36,373.44 L174.45,381.48 L175.54,389.53 L176.61,397.57 L177.68,405.61 L178.74,413.65 L179.78,421.69 L180.81,429.74 L181.83,437.78 L182.84,445.82 L183.83,453.86 L184.8,461.91 L185.76,469.95 L186.69,477.99 L187.62,486.03 L188.52,494.08 L189.4,502.12 L190.26,510.16 L191.09,518.2 L191.91,526.25 L192.7,534.29 L193.46,542.33 L194.2,550.37 L194.91,558.42 L195.6,566.46 L196.26,574.5 L198.3,578.2 L214.5,578.2" fill="none" stroke="#DA6218" stroke-width="3.3" stroke-linejoin="round" stroke-linecap="round"/>
<line x1="215.75" y1="101.89" x2="215.75" y2="600" stroke="#000" stroke-opacity="0.92" stroke-width="1.15" stroke-dasharray="5.6 3.455"/>
<line x1="323" y1="101.89" x2="323" y2="600" stroke="#000" stroke-opacity="0.92" stroke-width="1.15" stroke-dasharray="5.6 3.455"/>
<line x1="430.25" y1="101.89" x2="430.25" y2="600" stroke="#000" stroke-opacity="0.92" stroke-width="1.15" stroke-dasharray="5.6 3.455"/>
<line x1="537.5" y1="101.89" x2="537.5" y2="600" stroke="#000" stroke-opacity="0.92" stroke-width="1.15" stroke-dasharray="5.6 3.455"/>
</g>
<rect x="86.3" y="115.0" width="589.4" height="480.8" fill="none" stroke="#000" stroke-width="1.15"/>
<line x1="108.3" y1="595.8" x2="108.3" y2="606.8" stroke="#000" stroke-width="1.15"/>
<text transform="translate(108.3,634.8) scale(1,1.06)" font-size="21.3" text-anchor="middle">0</text>
<line x1="238.3" y1="595.8" x2="238.3" y2="606.8" stroke="#000" stroke-width="1.15"/>
<text transform="translate(238.3,634.8) scale(1,1.06)" font-size="21.3" text-anchor="middle">100</text>
<line x1="368.3" y1="595.8" x2="368.3" y2="606.8" stroke="#000" stroke-width="1.15"/>
<text transform="translate(368.3,634.8) scale(1,1.06)" font-size="21.3" text-anchor="middle">200</text>
<line x1="498.3" y1="595.8" x2="498.3" y2="606.8" stroke="#000" stroke-width="1.15"/>
<text transform="translate(498.3,634.8) scale(1,1.06)" font-size="21.3" text-anchor="middle">300</text>
<line x1="628.3" y1="595.8" x2="628.3" y2="606.8" stroke="#000" stroke-width="1.15"/>
<text transform="translate(628.3,634.8) scale(1,1.06)" font-size="21.3" text-anchor="middle">400</text>
<line x1="86.3" y1="578.3" x2="75.3" y2="578.3" stroke="#000" stroke-width="1.15"/>
<text transform="translate(60.7,578.3) rotate(-90) scale(1,1.06)" font-size="21.3" text-anchor="middle">0e+00</text>
<line x1="86.3" y1="482.3" x2="75.3" y2="482.3" stroke="#000" stroke-width="1.15"/>
<text transform="translate(60.7,482.3) rotate(-90) scale(1,1.06)" font-size="21.3" text-anchor="middle">2e+05</text>
<line x1="86.3" y1="386.3" x2="75.3" y2="386.3" stroke="#000" stroke-width="1.15"/>
<text transform="translate(60.7,386.3) rotate(-90) scale(1,1.06)" font-size="21.3" text-anchor="middle">4e+05</text>
<line x1="86.3" y1="290.3" x2="75.3" y2="290.3" stroke="#000" stroke-width="1.15"/>
<text transform="translate(60.7,290.3) rotate(-90) scale(1,1.06)" font-size="21.3" text-anchor="middle">6e+05</text>
<line x1="86.3" y1="194.3" x2="75.3" y2="194.3" stroke="#000" stroke-width="1.15"/>
<text transform="translate(60.7,194.3) rotate(-90) scale(1,1.06)" font-size="21.3" text-anchor="middle">8e+05</text>
<text transform="translate(381.1,678.1) scale(1,1.06)" font-size="21.5" text-anchor="middle">Coverage</text>
<text transform="translate(17.4,354.2) rotate(-90) scale(1,1.06)" font-size="21.5" text-anchor="middle">Frequency</text>
<text transform="translate(381.2,17.7) scale(1,1.06)" font-size="21.8" font-weight="bold" text-anchor="middle">GenomeScope Profile</text>
<text x="378.6" y="54.5" font-size="15.45" font-weight="bold" text-anchor="middle">len:48,525,429bp uniq:93%</text>
<text x="380" y="72.6" font-size="15.45" font-weight="bold" text-anchor="middle">aa:98.8% ab:1.25%</text>
<text x="383.2" y="90.6" font-size="15.45" font-weight="bold" text-anchor="middle" xml:space="preserve">kcov:82.5 err:0.788%  dup:3.22  k:21 p:2</text>
<rect x="446.5" y="132.7" width="211.7" height="130.1" fill="#fff" stroke="#000" stroke-width="1.15"/>
<line x1="463" y1="154.5" x2="495.5" y2="154.5" stroke="#6EBDE8" stroke-width="3.4" stroke-linecap="round"/>
<text transform="translate(511.6,161.8) scale(1,1.04)" font-size="18.2">observed</text>
<line x1="463" y1="176.25" x2="495.5" y2="176.25" stroke="#000" stroke-width="3.4" stroke-linecap="round"/>
<text transform="translate(511.6,183.55) scale(1,1.04)" font-size="18.2">full model</text>
<line x1="463" y1="198" x2="495.5" y2="198" stroke="#E8EC48" stroke-width="3.4" stroke-linecap="round"/>
<text transform="translate(511.6,205.3) scale(1,1.04)" font-size="18.2">unique sequence</text>
<line x1="463" y1="219.75" x2="495.5" y2="219.75" stroke="#DA6218" stroke-width="3.4" stroke-linecap="round"/>
<text transform="translate(511.6,227.05) scale(1,1.04)" font-size="18.2">errors</text>
<line x1="463" y1="241.5" x2="496" y2="241.5" stroke="#000" stroke-width="2.2" stroke-dasharray="8.9 9.1" stroke-linecap="round"/>
<text transform="translate(511.6,248.8) scale(1,1.04)" font-size="18.2">kmer-peaks</text>
</svg>
</body></html>
